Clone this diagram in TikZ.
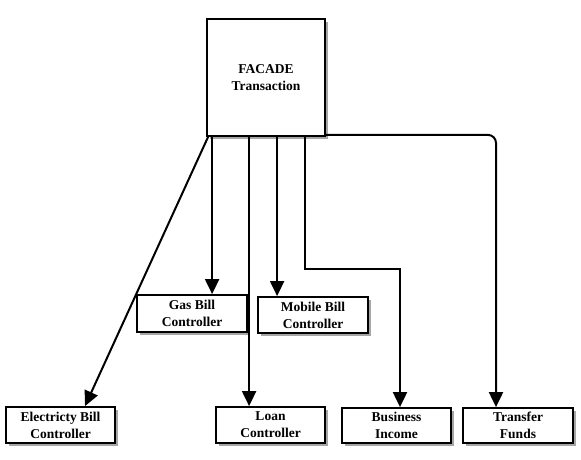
\documentclass[tikz,border=0pt]{standalone}
\usepackage{fontspec}
\setmainfont{Liberation Serif}
\usepackage{tikz}
\usetikzlibrary{positioning, arrows.meta, shadows, calc}

\begin{document}
\begin{tikzpicture}[x=1pt, y=-1pt,
    box/.style={draw, line width=1.8pt, fill=white, align=center, inner sep=0pt,
      font=\fontsize{13.5}{17}\selectfont\bfseries,
      drop shadow={shadow xshift=3pt, shadow yshift=-3pt, fill=black!35, opacity=1}},
    conn/.style={line width=2pt, -{Triangle[length=15pt, width=14pt]}}]
    \useasboundingbox (0,0) rectangle (581,459);

    % Facade
    \node[box, minimum width=118pt, minimum height=117pt] (facade) at (266,77.5) {FACADE\\Transaction};

    % Controllers
    \node[box, minimum width=110pt, minimum height=37pt] (gas) at (192,313.5) {Gas Bill\\Controller};
    \node[box, minimum width=110pt, minimum height=36pt] (mobile) at (313,315) {Mobile Bill\\Controller};
    \node[box, minimum width=109pt, minimum height=36pt] (elec) at (60.5,425) {Electricty Bill\\Controller};
    \node[box, minimum width=109pt, minimum height=36pt] (loan) at (270.5,425) {Loan\\Controller};
    \node[box, minimum width=109pt, minimum height=35pt] (business) at (396.5,425.5) {Business\\Income};
    \node[box, minimum width=110pt, minimum height=35pt] (transfer) at (518,425.5) {Transfer\\Funds};

    % Connectors
    \draw[conn] ([xshift=2pt]facade.south west) -- ([xshift=24.5pt]elec.north);
    \draw[conn] ([xshift=6pt]facade.south west) -- ([xshift=6pt]facade.south west |- gas.north);
    \draw[conn] ([xshift=43pt]facade.south west) -- ([xshift=43pt]facade.south west |- loan.north);
    \draw[conn] ([xshift=71pt]facade.south west) -- ([xshift=71pt]facade.south west |- mobile.north);
    \draw[conn] ([xshift=99pt]facade.south west) -- ++(0,132) -| ([xshift=3.5pt]business.north);
    \draw[conn, rounded corners=8pt] ([yshift=2pt]facade.south east) -| ([xshift=-22pt]transfer.north);
  \end{tikzpicture}
\end{document}
